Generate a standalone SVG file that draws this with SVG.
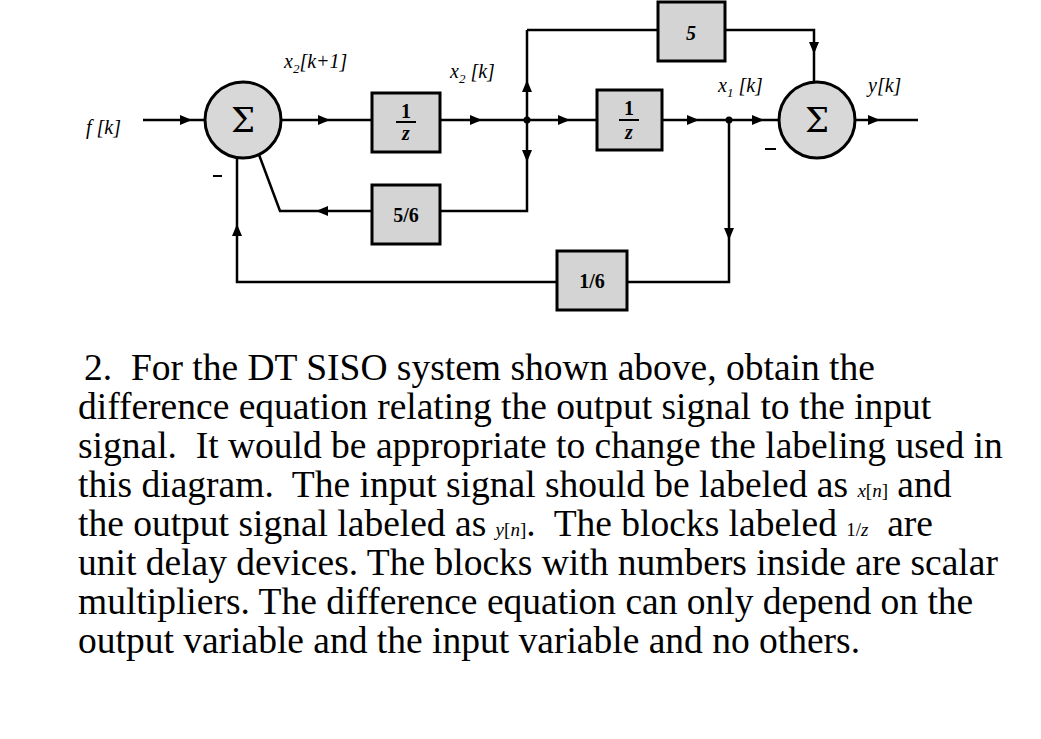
<svg xmlns="http://www.w3.org/2000/svg" width="1041" height="739" viewBox="0 0 1041 739" xml:space="preserve">
<style>
.w{stroke:#000;stroke-width:2.5;fill:none}
.blk{fill:#d4d4d4;stroke:#000;stroke-width:3}
.sum{fill:#d8d8d8;stroke:#000;stroke-width:3}
.lbl{font-family:"Liberation Serif","DejaVu Serif",serif;font-style:italic;font-size:20px}
.bt{font-family:"Liberation Serif",serif;font-weight:bold;font-size:20px;text-anchor:middle}
.sg{font-family:"DejaVu Serif",serif;font-size:34px;text-anchor:middle}
.p{font-family:"Liberation Serif",serif;font-size:37.5px;white-space:pre}
.s{font-family:"Liberation Serif",serif;font-size:19px}
</style>
<rect width="1041" height="739" fill="#fff"/>
<g id="connectors">
<path class="w" d="M143,120H205"/>
<path class="w" d="M281,120H372"/><path class="w" d="M440,120H597"/>
<path class="w" d="M527,30V211H440"/><path class="w" d="M372,211H280L258,152"/>
<path class="w" d="M527,30H658"/><path class="w" d="M725,30H814V81"/>
<path class="w" d="M662,120H778"/><path class="w" d="M856,120H918"/>
<path class="w" d="M729,120V282H627"/><path class="w" d="M557,282H237V158"/>
<g fill="#000">
<path d="M180,115L192,120L180,125z"/>
<path d="M318,115L330,120L318,125z"/>
<path d="M470,115L482,120L470,125z"/>
<path d="M558,115L570,120L558,125z"/>
<path d="M687,115L699,120L687,125z"/>
<path d="M752,115L764,120L752,125z"/>
<path d="M868,115L880,120L868,125z"/>
<path d="M522,92L527,80L532,92z"/>
<path d="M522,150L527,162L532,150z"/>
<path d="M328,206L316,211L328,216z"/>
<path d="M809,42L814,54L819,42z"/>
<path d="M724,228L729,240L734,228z"/>
<path d="M232,236L237,224L242,236z"/>
<circle cx="527" cy="120" r="3.5"/><circle cx="729" cy="120" r="3.5"/>
</g>
</g>
<g id="sum1"><circle class="sum" cx="243" cy="120" r="38"/><text class="sg" x="243" y="132">Σ</text></g>
<g id="sum2"><circle class="sum" cx="817" cy="120" r="38"/><text class="sg" x="817" y="132">Σ</text></g>
<g id="delay1"><rect class="blk" x="372" y="93" width="68" height="59"/><text class="bt" x="406" y="118">1</text><path d="M396,122H416" stroke="#000" stroke-width="2"/><text class="bt" x="406" y="140" font-style="italic" font-size="17">z</text></g>
<g id="delay2"><rect class="blk" x="597" y="90" width="65" height="60"/><text class="bt" x="629" y="115">1</text><path d="M619,120H639" stroke="#000" stroke-width="2"/><text class="bt" x="629" y="139" font-style="italic" font-size="17">z</text></g>
<g id="g56"><rect class="blk" x="372" y="185" width="68" height="59"/><text class="bt" x="406" y="222">5/6</text></g>
<g id="g5"><rect class="blk" x="658" y="2" width="67" height="59"/><text class="bt" x="691" y="40" font-style="italic" font-size="26">5</text></g>
<g id="g16"><rect class="blk" x="557" y="251" width="70" height="59"/><text class="bt" x="592" y="288">1/6</text></g>
<g id="labels">
<text class="lbl" x="86" y="134">f [k]</text>
<text class="lbl" x="284" y="68">x<tspan font-size="13" dy="5">2</tspan><tspan dy="-5">[k+1]</tspan></text>
<text class="lbl" x="450" y="78">x<tspan font-size="13" dy="5">2</tspan><tspan dy="-5"> [k]</tspan></text>
<text class="lbl" x="718" y="92">x<tspan font-size="13" dy="5">1</tspan><tspan dy="-5"> [k]</tspan></text>
<text class="lbl" x="868" y="92">y[k]</text>
<path d="M213,176H222M765,149H776" stroke="#000" stroke-width="2"/>
</g>
<g id="text">
<text class="p" x="84" y="380">2.  For the DT SISO system shown above, obtain the</text>
<text class="p" x="78" y="419">difference equation relating the output signal to the input</text>
<text class="p" x="78" y="458">signal.  It would be appropriate to change the labeling used in</text>
<text class="p" x="78" y="497">this diagram.  The input signal should be labeled as <tspan class="s" font-style="italic">x</tspan><tspan class="s">[</tspan><tspan class="s" font-style="italic">n</tspan><tspan class="s">]</tspan> and</text>
<text class="p" x="78" y="536">the output signal labeled as <tspan class="s" font-style="italic">y</tspan><tspan class="s">[</tspan><tspan class="s" font-style="italic">n</tspan><tspan class="s">]</tspan>.  The blocks labeled <tspan class="s">1/</tspan><tspan class="s" font-style="italic">z</tspan>  are</text>
<text class="p" x="78" y="575">unit delay devices. The blocks with numbers inside are scalar</text>
<text class="p" x="78" y="614">multipliers. The difference equation can only depend on the</text>
<text class="p" x="78" y="653">output variable and the input variable and no others.</text>
</g>
</svg>
